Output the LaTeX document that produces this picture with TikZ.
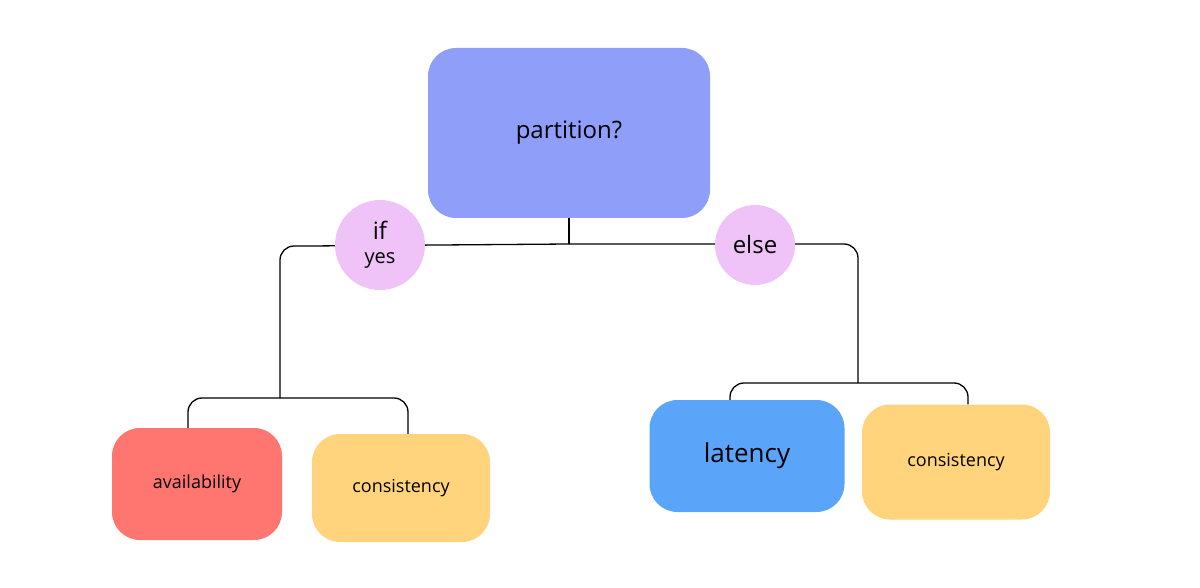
\documentclass[tikz,border=0pt]{standalone}
\usepackage{fontspec}
\setmainfont{Open Sans}
\begin{document}
\begin{tikzpicture}[x=1pt,y=-1pt,
  box/.style={draw=none,rounded corners=28pt,inner sep=0pt},
  bub/.style={circle,draw=none,fill=bubc,inner sep=0pt},
  wire/.style={draw=black,line width=1.3pt,rounded corners=14pt}]
\definecolor{partc}{HTML}{8F9EF9}
\definecolor{bubc}{HTML}{EFC3F8}
\definecolor{redc}{HTML}{FF7670}
\definecolor{yelc}{HTML}{FFD47C}
\definecolor{bluc}{HTML}{5AA4FA}
\useasboundingbox (0,0) rectangle (1200,588);
\node[box,fill=partc,minimum width=282pt,minimum height=170pt,font=\fontsize{24}{28}\selectfont] (p) at (569,133) {partition?};
\node[box,fill=redc,minimum width=170pt,minimum height=112pt,font=\fontsize{18}{22}\selectfont] (a) at (197,484) {availability};
\node[box,fill=yelc,minimum width=178pt,minimum height=108pt,font=\fontsize{18}{22}\selectfont] (c1) at (401,488) {consistency};
\node[box,fill=bluc,minimum width=195pt,minimum height=112pt,font=\fontsize{26}{30}\selectfont] (l) at (747,456) {latency};
\node[box,fill=yelc,minimum width=188pt,minimum height=115pt,font=\fontsize{18}{22}\selectfont] (c2) at (956,462) {consistency};
\coordinate (jl) at (280,398);
\coordinate (jr) at (858,383);
\coordinate (top) at (569,244);
\draw[wire] (p.south) -- (top);
\draw[wire] (top) -- (310,246) -- (280,246) -- (jl);
\draw[wire] (top) -- (858,244) -- (jr);
\draw[wire] (jl) -- (188,398) -- (a.north -| 188,0);
\draw[wire] (jl) -- (408,398) -- (c1.north -| 408,0);
\draw[wire] (jr) -- (730,383) -- (l.north -| 730,0);
\draw[wire] (jr) -- (968,383) -- (c2.north -| 968,0);
\node[bub,minimum size=90pt,font=\fontsize{24}{26}\selectfont,align=center] (y) at (380,245) {if\\[-2pt]{\fontsize{20}{22}\selectfont yes}};
\node[bub,minimum size=80pt,font=\fontsize{24}{26}\selectfont] (e) at (755,245) {else};
\end{tikzpicture}
\end{document}
